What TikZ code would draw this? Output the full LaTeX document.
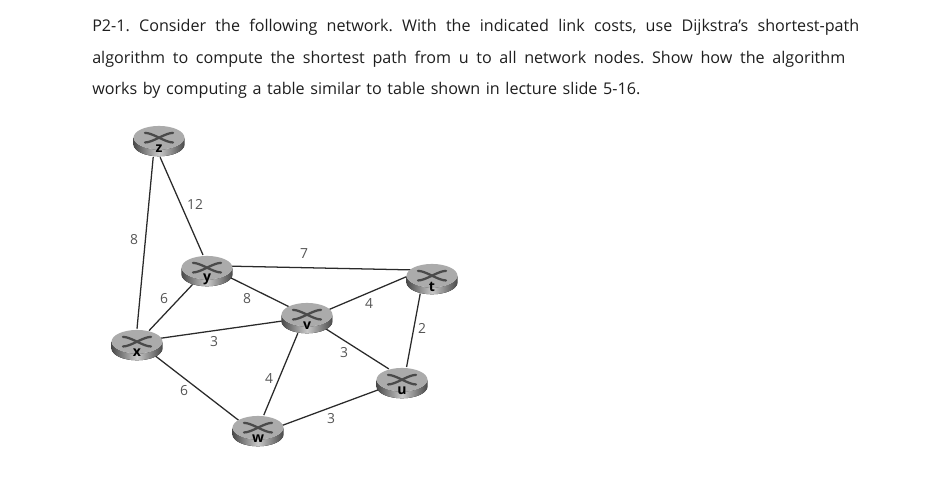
\documentclass[tikz,border=0pt]{standalone}
\usepackage{fontspec}
\setmainfont{Open Sans}
\usetikzlibrary{shapes.geometric,backgrounds}
\definecolor{txt}{HTML}{1E1E1E}
\definecolor{lab}{HTML}{555555}
\definecolor{rtop}{HTML}{ABABAB}
\definecolor{rdark}{HTML}{4A4A4A}
\definecolor{rlight}{HTML}{C8C8C8}
\definecolor{lnk}{HTML}{2A2A2A}
\tikzset{
  px/.style={x=0.75pt,y=-0.75pt},
  link/.style={draw=lnk,line width=0.95pt},
  cost/.style={text=lab,font=\fontsize{10.4pt}{12pt}\selectfont,inner sep=0pt},
  para/.style={anchor=base west,inner sep=0pt,text=txt,font=\fontsize{12.1pt}{14pt}\selectfont},
  rname/.style={inner sep=0pt,text=black,font=\bfseries\fontsize{10.5pt}{11pt}\selectfont},
  rhit/.style={ellipse,minimum width=38.5pt,minimum height=24pt,inner sep=0pt}
}
% centre x, centre y, name, label
\newcommand{\routerdraw}[4]{%
  \node[rhit] (#3) at (#1,#2) {};
  \fill[left color=rdark,right color=rdark,middle color=rlight]
    ([xshift=-19.1pt,yshift=2.5pt]#3.center) -- ++(0pt,-5pt)
    arc[start angle=180,end angle=360,x radius=19.1pt,y radius=9pt]
    -- ++(0pt,5pt)
    arc[start angle=0,end angle=-180,x radius=19.1pt,y radius=9pt] -- cycle;
  \fill[rtop] ([yshift=2.5pt]#3.center) ellipse[x radius=19.1pt,y radius=8.8pt];
  \begin{scope}[shift={(#3.center)},yshift=2.5pt,line width=1.7pt,draw=rdark,line cap=round]
    \draw (-10.5pt,3.6pt) .. controls (-4.5pt,3.6pt) and (4.5pt,-3.6pt) .. (10.5pt,-3.6pt);
    \draw (-10.5pt,-3.6pt) .. controls (-4.5pt,-3.6pt) and (4.5pt,3.6pt) .. (10.5pt,3.6pt);
  \end{scope}
  \node[rname] at ([yshift=-6pt]#3.center) {#4};
}
\begin{document}
\begin{tikzpicture}[px]
\useasboundingbox (0,0) rectangle (947,478);
\node[para] at (92,32) {\makebox[575.25pt][s]{P2-1.\hfill Consider\hfill the\hfill following\hfill network.\hfill With\hfill the\hfill indicated\hfill link\hfill costs,\hfill use\hfill Dijkstra's\hfill shortest-path}};
\node[para] at (92,63.5) {\makebox[564.75pt][s]{algorithm\hfill to\hfill compute\hfill the\hfill shortest\hfill path\hfill from\hfill u\hfill to\hfill all\hfill network\hfill nodes.\hfill Show\hfill how\hfill the\hfill algorithm}};
\node[para] at (92,94.5) {\makebox[411pt][s]{works\hfill by\hfill computing\hfill a\hfill table\hfill similar\hfill to\hfill table\hfill shown\hfill in\hfill lecture\hfill slide\hfill 5-16.}};

\routerdraw{159}{141}{z}{z}
\routerdraw{207}{271}{y}{y}
\routerdraw{137}{345}{x}{x}
\routerdraw{307}{318}{v}{v}
\routerdraw{432}{279}{t}{t}
\routerdraw{402}{383}{u}{u}
\routerdraw{258}{431}{w}{w}

\begin{scope}[on background layer]
  \path[link] (z.-110) -- (x.90);
  \path[link] (z.-86) -- (y.104);
  \path[link] (y.223) -- (x.50);
  \path[link] (y.11) -- (t.157);
  \path[link] (y.-16) -- (v.148);
  \path[link] (x.16) -- (v.187);
  \path[link] (x.-31) -- (w.151);
  \path[link] (v.21) -- (t.175);
  \path[link] (v.-30) -- (u.133);
  \path[link] (v.-121) -- (w.70);
  \path[link] (t.231) -- (u.74);
  \path[link] (w.13) -- (u.196);
\end{scope}

\node[cost] (c1) at (134,240) {8};
\node[cost] (c2) at (195,204) {12};
\node[cost] (c3) at (164,299) {6};
\node[cost] (c4) at (247,299) {8};
\node[cost] (c5) at (304,254) {7};
\node[cost] (c6) at (369,304) {4};
\node[cost] (c7) at (422,328) {2};
\node[cost] (c8) at (214,342) {3};
\node[cost] (c9) at (344,353) {3};
\node[cost] (c10) at (184,391) {6};
\node[cost] (c11) at (269,379) {4};
\node[cost] (c12) at (331,419) {3};
\end{tikzpicture}
\end{document}
